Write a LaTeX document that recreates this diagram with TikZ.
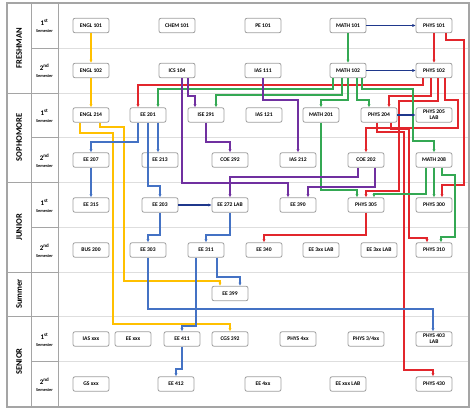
\documentclass[tikz,border=0pt]{standalone}
\usepackage{fontspec}
\setmainfont{Carlito}
\usetikzlibrary{arrows.meta}
\definecolor{cyellow}{RGB}{255,192,0}
\definecolor{cred}{RGB}{226,38,44}
\definecolor{cgreen}{RGB}{52,168,83}
\definecolor{cblue}{RGB}{68,114,196}
\definecolor{cpurple}{RGB}{112,48,160}
\definecolor{cnavy}{RGB}{31,56,140}
\definecolor{gridgray}{RGB}{165,165,165}
\definecolor{lightgrid}{RGB}{222,222,222}
\tikzset{
  course/.style= {draw=gray!75, line width=0.8pt, rounded corners=2pt, fill=white,
    minimum width=36pt, minimum height=14.5pt, inner sep=0.5pt, align=center,
    font=\fontsize{5.6}{5.8}\selectfont\bfseries},
  year/.style= {rotate=90, font=\fontsize{8.5}{10}\selectfont\bfseries},
  semnum/.style= {font=\fontsize{7}{8}\selectfont\bfseries},
  semtxt/.style= {font=\fontsize{4.3}{5}\selectfont\bfseries},
  link/.style= {line width=1.15pt, -{Latex[length=3.2pt,width=3.2pt]}},
}

\begin{document}
\begin{tikzpicture}[x=1pt, y=-1pt]
  \useasboundingbox (0,0) rectangle (474,410);

  \foreach \y in {48,93,137,182,227,272,316,361}
    \draw [lightgrid, line width=0.8pt] (58,\y) -- (469,\y);
  \foreach \y in {48,137,227,361}
    \draw [gridgray, line width=0.8pt] (31,\y) -- (58,\y);
  \foreach \y in {93,182,272,316}
    \draw [gridgray, line width=0.8pt] (7,\y) -- (58,\y);
  \draw [gridgray, line width=0.8pt] (31,3) -- (31,407);
  \draw [gridgray, line width=0.8pt] (58,3) -- (58,407);
  \draw [gridgray, line width=1.2pt] (7,3) rectangle (469,407);

  \node [year] (fr) at (19,48) {FRESHMAN};
  \node [year] (so) at (19,137.5) {SOPHOMORE};
  \node [year] (ju) at (19,227) {JUNIOR};
  \node [year] (su) at (19,294) {Summer};
  \node [year] (se) at (19,361.5) {SENIOR};

  \foreach \y/\n/\s in {25.5/1/st, 70.5/2/nd, 115/1/st, 160/2/nd, 205/1/st, 250/2/nd, 339/1/st, 384/2/nd} {
    \node [semnum] at (44.5,\y-3) {\n\textsuperscript{\s}};
    \node [semtxt] at (44.5,\y+6) {Semester};
  }

  \node [course] (engl101) at (91,25.5) {ENGL 101};
  \node [course] (chem101) at (177,25.5) {CHEM 101};
  \node [course] (pe101) at (263,25.5) {PE 101};
  \node [course] (math101) at (348,25.5) {MATH 101};
  \node [course] (phys101) at (434,25.5) {PHYS 101};

  \node [course] (engl102) at (91,70.5) {ENGL 102};
  \node [course] (ics104) at (177,70.5) {ICS 104};
  \node [course] (ias111) at (263,70.5) {IAS 111};
  \node [course] (math102) at (348,70.5) {MATH 102};
  \node [course] (phys102) at (434,70.5) {PHYS 102};

  \node [course] (engl214) at (91,115) {ENGL 214};
  \node [course] (ee201) at (148,115) {EE 201};
  \node [course] (ise291) at (206,115) {ISE 291};
  \node [course] (ias121) at (264,115) {IAS 121};
  \node [course] (math201) at (321,115) {MATH 201};
  \node [course] (phys204) at (379,115) {PHYS 204};
  \node [course] (phys205) at (434,115) {PHYS 205\\LAB};

  \node [course] (ee207) at (91,160) {EE 207};
  \node [course] (ee213) at (160,160) {EE 213};
  \node [course] (coe292) at (230,160) {COE 292};
  \node [course] (ias212) at (298,160) {IAS 212};
  \node [course] (coe202) at (366,160) {COE 202};
  \node [course] (math208) at (434,160) {MATH 208};

  \node [course] (ee315) at (91,205) {EE 315};
  \node [course] (ee203) at (160,205) {EE 203};
  \node [course] (ee272) at (230,205) {EE 272 LAB};
  \node [course] (ee390) at (298,205) {EE 390};
  \node [course] (phys305) at (366,205) {PHYS 305};
  \node [course] (phys300) at (434,205) {PHYS 300};

  \node [course] (bus200) at (91,250) {BUS 200};
  \node [course] (ee303) at (148,250) {EE 303};
  \node [course] (ee311) at (206,250) {EE 311};
  \node [course] (ee340) at (264,250) {EE 340};
  \node [course] (ee3xxa) at (321,250) {EE 3xx LAB};
  \node [course] (ee3xxb) at (379,250) {EE 3xx LAB};
  \node [course] (phys310) at (434,250) {PHYS 310};

  \node [course] (ee399) at (230,293.5) {EE 399};

  \node [course] (iasxxx) at (91,339) {IAS xxx};
  \node [course] (eexxx) at (133,339) {EE xxx};
  \node [course] (ee411) at (182,339) {EE 411};
  \node [course] (cgs392) at (230,339) {CGS 392};
  \node [course] (phys4xx) at (298,339) {PHYS 4xx};
  \node [course] (phys34xx) at (366,339) {PHYS 3/4xx};
  \node [course] (phys403) at (434,339) {PHYS 403\\LAB};

  \node [course] (gsxxx) at (91,384) {GS xxx};
  \node [course] (ee412) at (176,384) {EE 412};
  \node [course] (ee4xx) at (263,384) {EE 4xx};
  \node [course] (eexxxlab) at (348,384) {EE xxx LAB};
  \node [course] (phys430) at (434,384) {PHYS 430};

  \draw [link, cyellow] (engl101) -- (engl102);
  \draw [link, cyellow] (engl102) -- (engl214);
  \draw [link, cyellow] ([xshift=-11pt]engl214.south) |- (113,133) |- (230,324) -- (cgs392.north);
  \draw [link, cyellow] ([xshift=9pt]engl214.south) |- (124,127) |- (220,281) -- ([xshift=-10pt]ee399.north);

  \draw [link, cred] (phys101) -- (phys102);
  \draw [link, cred] ([xshift=12pt]phys101.south) |- (464,40) |- (442,185) -- ([xshift=8pt]phys300.north);
  \draw [link, cred] ([xshift=-11pt]phys102.south) |- (138,85) -- ([xshift=-10pt]ee201.north);
  \draw [link, cred] ([xshift=-3pt]phys102.south) |- (389,96) -- ([xshift=10pt]phys204.north);
  \draw [link, cred] ([xshift=4pt]phys102.south) |- (399,101) |- (366,191) -- (phys305.north);
  \draw [link, cred] ([xshift=11pt]phys102.south) |- (458,100) |- (366,128) -- (coe202.north);
  \draw [link, cred] ([xshift=-2pt]phys204.south) |- (404,132) |- (433,370) -- ([xshift=-1pt]phys430.north);
  \draw [link, cred] ([xshift=12pt]phys204.south) |- (409,129) |- (427,238) -- ([xshift=-7pt]phys310.north);
  \draw [link, cred] (phys305.south) |- (264,235) -- (ee340.north);

  \draw [link, cgreen] (math101) -- (math102);
  \draw [link, cgreen] ([xshift=-15pt]math102.south) |- (158,89) -- ([xshift=10pt]ee201.north);
  \draw [link, cgreen] ([xshift=-6pt]math102.south) |- (216,95) -- ([xshift=10pt]ise291.north);
  \draw [link, cgreen] (math102.south) |- (321,100) -- (math201.north);
  \draw [link, cgreen] ([xshift=9pt]math102.south) |- (369,100) -- ([xshift=-10pt]phys204.north);
  \draw [link, cgreen] ([xshift=14pt]math102.south) |- (413,89) |- (434,141) -- (math208.north);
  \draw [link, cgreen] (math201.south) |- (357,190) -- ([xshift=-9pt]phys305.north);
  \draw [link, cgreen] ([xshift=-8pt]math208.south) |- (374,194) -- ([xshift=8pt]phys305.north);
  \draw [link, cgreen] (math208) -- (phys300);
  \draw [link, cgreen] ([xshift=8pt]math208.south) |- (455,175) |- (441,237) -- ([xshift=7pt]phys310.north);

  \draw [link, cpurple] ([xshift=11pt]ics104.south) |- (195,96) -- ([xshift=-11pt]ise291.north);
  \draw [link, cpurple] ([xshift=5pt]ics104.south) |- (288,183) -- ([xshift=-10pt]ee390.north);
  \draw [link, cpurple] (ias111.south) |- (298,100) -- (ias212.north);
  \draw [link, cpurple] (ise291.south) |- (230,142) -- (coe292.north);
  \draw [link, cpurple] ([xshift=-8pt]coe202.south) |- (230,177) -- (ee272.north);
  \draw [link, cpurple] ([xshift=9pt]coe202.south) |- (308,187) -- ([xshift=10pt]ee390.north);

  \draw [link, cblue] ([xshift=-10pt]ee201.south) |- (91,142) -- (ee207.north);
  \draw [link, cblue] (ee201.south) |- (160,186) -- (ee203.north);
  \draw [link, cblue] ([xshift=10pt]ee201.south) -- ([xshift=-2pt]ee213.north);
  \draw [link, cblue] (ee207) -- (ee315);
  \draw [link, cblue] (ee203.south) |- (148,235) -- (ee303.north);
  \draw [link, cblue] (ee272.south) |- (206,235) -- (ee311.north);
  \draw [link, cblue] (ee303.south) |- (433,309) -- ([xshift=-1pt]phys403.north);
  \draw [link, cblue] ([xshift=11pt]ee311.south) |- (240,277) -- ([xshift=10pt]ee399.north);
  \draw [link, cblue] ([xshift=-10pt]ee311.south) |- (182,326) -- (ee411.north);
  \draw [link, cblue] (ee411.south) |- (176,369) -- (ee412.north);

  \draw [link, cnavy] (math101) -- (phys101);
  \draw [link, cnavy] (math102) -- (phys102);
  \draw [link, cnavy] (phys204) -- (phys205);
  \draw [link, cnavy] (ee203) -- (ee272);
\end{tikzpicture}
\end{document}
